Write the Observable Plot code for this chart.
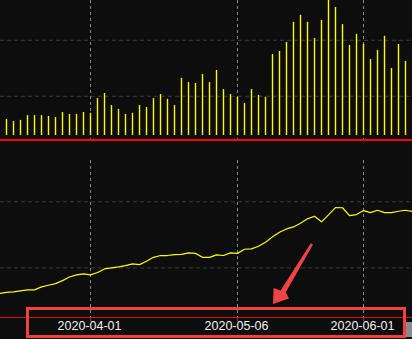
<!DOCTYPE html>
<html><head><meta charset="utf-8">
<script src="https://cdn.jsdelivr.net/npm/d3@7"></script>
<script src="https://cdn.jsdelivr.net/npm/@observablehq/plot@0.6"></script>
<style>
html,body{margin:0;padding:0;background:#0d0d0d;}
#wrap{position:relative;width:412px;height:339px;overflow:hidden;background:#0d0d0d;}
#topPanel,#botPanel{position:absolute;left:0;}
#topPanel{top:0}
#botPanel{top:142px}
.ann{position:absolute;pointer-events:none}
svg{display:block}
</style></head><body>
<div id="wrap">
  <div id="topPanel"></div>
  <div id="botPanel"></div>
  <div class="ann" style="left:0;top:139px;width:412px;height:1.5px;background:#f00"></div>
  <div class="ann" style="left:26px;top:307px;width:380px;height:31px;box-sizing:border-box;border:3px solid #f04040"></div>
  <div class="ann" style="left:406px;top:321.5px;width:6px;height:15px;background:#8a8a8a"></div>
  <svg class="ann" style="left:0;top:0" width="412" height="339">
    <polygon points="310.8,243.3 313,244.6 285.8,292.2 289,298.6 273,304 273.6,288 280.6,290.6" fill="#f04444"/>
  </svg>
</div>
<script>
// trading days (Mar 13 .. Jun 10, 2020)
const dates = [
 "2020-03-13","2020-03-16","2020-03-17","2020-03-18","2020-03-19","2020-03-20",
 "2020-03-23","2020-03-24","2020-03-25","2020-03-26","2020-03-27",
 "2020-03-30","2020-03-31","2020-04-01","2020-04-02","2020-04-03",
 "2020-04-07","2020-04-08","2020-04-09","2020-04-10",
 "2020-04-13","2020-04-14","2020-04-15","2020-04-16","2020-04-17",
 "2020-04-20","2020-04-21","2020-04-22","2020-04-23","2020-04-24",
 "2020-04-27","2020-04-28","2020-04-29","2020-04-30",
 "2020-05-06","2020-05-07","2020-05-08",
 "2020-05-11","2020-05-12","2020-05-13","2020-05-14","2020-05-15",
 "2020-05-18","2020-05-19","2020-05-20","2020-05-21","2020-05-22",
 "2020-05-25","2020-05-26","2020-05-27","2020-05-28","2020-05-29",
 "2020-06-01","2020-06-02","2020-06-03","2020-06-04","2020-06-05",
 "2020-06-08","2020-06-09","2020-06-10"
];
// volume bars (Mar 16 .. Jun 9)
const barDates = dates.slice(1, -1);
const volume = [
 5.7,5.0,5.4,7.1,7.1,7.1,6.8,6.4,8.2,7.5,7.5,8.2,7.9,13.2,15.0,10.7,9.3,7.5,7.9,10.7,
 10.0,13.2,14.6,12.9,10.7,20.4,18.9,18.6,21.8,18.9,23.2,16.4,14.6,13.6,11.4,16.4,14.3,13.6,
 28.9,30.0,33.2,40.4,42.9,40.4,34.6,41.1,48.2,45.7,39.6,32.1,36.1,32.5,27.1,30.4,35.4,23.9,32.5,26.4
];
// price line (Mar 13 .. Jun 10)
const price = [
 14.46,14.52,14.55,14.61,14.67,14.67,14.85,14.95,15.05,15.23,15.45,15.58,15.64,15.58,15.72,
 15.94,16.00,16.06,16.14,16.24,16.20,16.40,16.64,16.75,16.75,16.81,16.82,16.91,16.88,16.64,
 16.64,16.79,16.75,16.91,16.88,17.13,17.15,17.31,17.55,17.88,18.16,18.36,18.48,18.70,18.97,
 19.13,18.79,19.21,19.65,19.64,19.17,19.23,19.47,19.35,19.49,19.35,19.35,19.43,19.49,19.41
];
const tickDates = ["2020-04-01","2020-05-06","2020-06-01"];
const volGrid = [14, 34];
const priceGrid = [16, 20];
const priceMin = 13, priceMax = 22.5;

const barRows = barDates.map((d, i) => ({date: d, vol: volume[i]}));
const lineRows = dates.map((d, i) => ({date: d, price: price[i]}));

const xOpt = {type: "point", domain: dates, range: [-1, 412], padding: 0, axis: null};

const volChart = Plot.plot({
  width: 412, height: 142,
  marginTop: 0, marginBottom: 7, marginLeft: 0, marginRight: 0,
  style: {background: "transparent"},
  x: xOpt,
  y: {domain: [0, 48.2], axis: null},
  marks: [
    Plot.ruleY(volGrid, {stroke: "#3c3c3c", strokeDasharray: "4,3"}),
    Plot.ruleX(tickDates, {stroke: "#8a8a8a", strokeDasharray: "3,3", insetBottom: -6}),
    Plot.ruleX(barRows, {x: "date", y1: 0, y2: "vol", stroke: "#ffff00", strokeWidth: 1.4})
  ]
});
document.getElementById("topPanel").appendChild(volChart);

const priceChart = Plot.plot({
  width: 412, height: 197,
  marginTop: 18, marginBottom: 22, marginLeft: 0, marginRight: 0,
  style: {background: "transparent"},
  x: xOpt,
  y: {domain: [priceMin, priceMax], axis: null},
  marks: [
    Plot.ruleY(priceGrid, {stroke: "#3c3c3c", strokeDasharray: "4,3"}),
    Plot.ruleX(tickDates, {stroke: "#8a8a8a", strokeDasharray: "3,3"}),
    Plot.ruleY([priceMin], {stroke: "#d81010"}),
    Plot.ruleX(tickDates, {y1: priceMin, y2: priceMin - 0.25, stroke: "#e01010"}),
    Plot.line(lineRows, {x: "date", y: "price", stroke: "#ffff00", strokeWidth: 1.2}),
    Plot.text(tickDates, {x: d => d, text: d => d, frameAnchor: "bottom", dy: 12, dx: -1,
      fill: "#f2f2f2", fontSize: 12.5, fontFamily: "Liberation Sans, Arial, sans-serif"})
  ]
});
document.getElementById("botPanel").appendChild(priceChart);
</script>
</body></html>
